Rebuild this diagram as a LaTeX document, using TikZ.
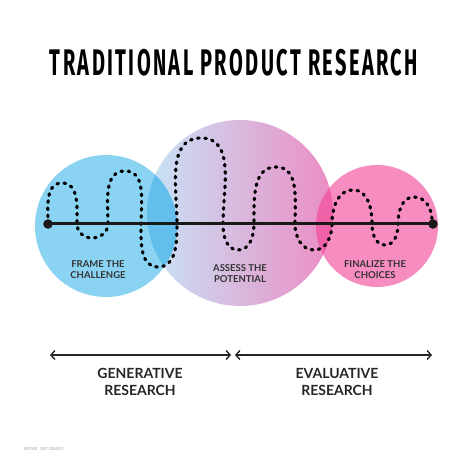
\documentclass[tikz,border=0pt]{standalone}
\usepackage{fontspec}
\setmainfont{Lato}
\newfontfamily\titlefont[LetterSpace=12]{Fira Sans}
\usetikzlibrary{arrows.meta}
\definecolor{skyblue}{HTML}{8BD3F3}
\definecolor{deepblue}{HTML}{62BFEB}
\definecolor{midblue}{HTML}{C6E4F7}
\definecolor{midpink}{HTML}{EC8CC4}
\definecolor{rosepink}{HTML}{F68CC0}
\definecolor{deeppink}{HTML}{F062A8}
\begin{document}
\begin{tikzpicture}[x=1pt, y=1pt,
    stage/.style={font=\bfseries\fontsize{9.5}{11}\selectfont, align=center, text=black!80},
    phase/.style={font=\bfseries\fontsize{14}{17}\selectfont, align=center, text=black!85},
    wave/.style={line width=3.2pt, line cap=round, dash pattern=on 1.6pt off 5.6pt},
    >={Straight Barb[length=4pt,width=9pt]}]
    \useasboundingbox (0,0) rectangle (474,474);
    \node[font=\titlefont\bfseries\fontsize{37}{40}\selectfont, xscale=0.54] (title) at (234,411) {TRADITIONAL PRODUCT RESEARCH};

    \coordinate (frame) at (106,248); \coordinate (assess) at (240,261); \coordinate (finalize) at (377,248);
    \shade[left color=midblue, right color=midpink] (assess) circle[radius=93];
    \fill[skyblue] (frame) circle[radius=71];
    \fill[rosepink] (finalize) circle[radius=61];
    \begin{scope}
        \clip (assess) circle[radius=93];
        \fill[deepblue] (frame) circle[radius=71];
        \fill[deeppink] (finalize) circle[radius=61];
    \end{scope}

    \coordinate (start) at (48,250); \coordinate (finish) at (433,250);
    \draw[wave] (start) to[out=90,in=180] (62,291) to[out=0,in=90] (77,250)
        to[out=-90,in=180] (92,236) to[out=0,in=-90] (108,250)
        to[out=90,in=180] (125,303) to[out=0,in=90] (141,250)
        to[out=-90,in=180] (158,207) to[out=0,in=-90] (177,250)
        to[out=90,in=180] (201,336) to[out=0,in=90] (223,250)
        to[out=-90,in=180] (238,224) to[out=0,in=-90] (254,250)
        to[out=90,in=180] (276,307) to[out=0,in=90] (295,250)
        to[out=-90,in=180] (314,224) to[out=0,in=-90] (332,250)
        to[out=90,in=180] (353,284) to[out=0,in=90] (372,250)
        to[out=-90,in=180] (385,229) to[out=0,in=-90] (398,250)
        to[out=90,in=180] (414,277) to[out=0,in=90] (432,254);
    \draw[line width=3pt, black!90] (start) -- (finish);
    \foreach \p in {start,finish} \filldraw[black!90] (\p) circle (4.5pt);

    \node[stage] (frametext) at (98,204) {FRAME THE\\CHALLENGE};
    \node[stage] (assesstext) at (240,200) {ASSESS THE\\POTENTIAL};
    \node[stage] (finaltext) at (375,204) {FINALIZE THE\\CHOICES};

    \coordinate (genleft) at (50,119); \coordinate (genright) at (231,119);
    \coordinate (evaleft) at (235,119); \coordinate (evaright) at (432,119);
    \foreach \a/\b in {genleft/genright,evaleft/evaright} \draw[<->, line width=1.4pt, black!85] (\a) -- (\b);
    \node[phase] (generative) at (140,92) {GENERATIVE\\RESEARCH};
    \node[phase] (evaluative) at (337,92) {EVALUATIVE\\RESEARCH};

    \node[font=\ttfamily\fontsize{5}{6}\selectfont, text=black!35] (signature) at (44,25) {BRYAN ZMIJEWSKI};
\end{tikzpicture}
\end{document}
